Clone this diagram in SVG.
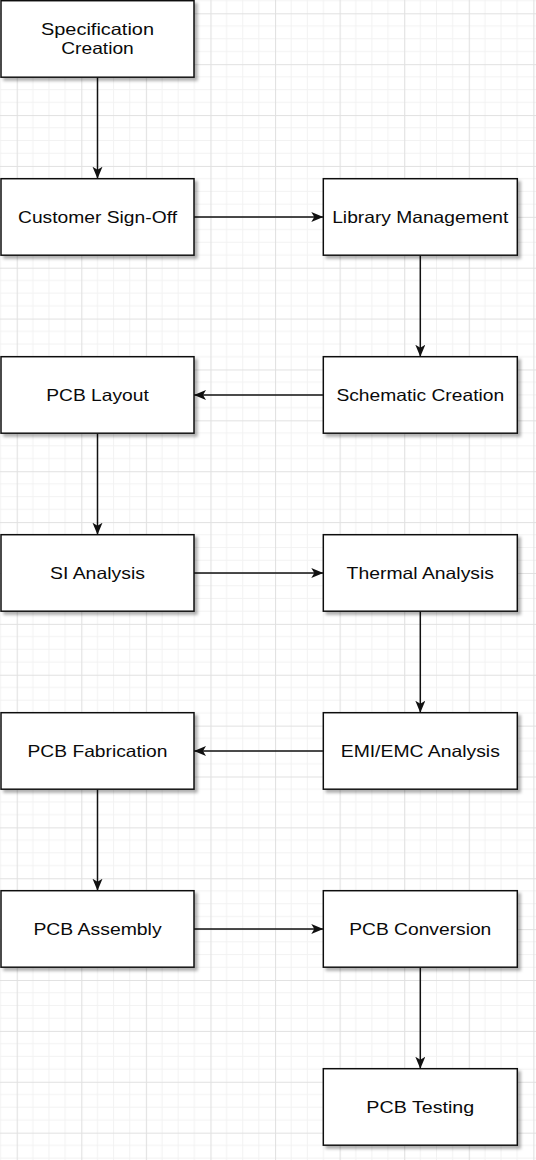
<svg xmlns="http://www.w3.org/2000/svg" width="536" height="1160" viewBox="0 0 536 1160">
<defs>
<pattern id="grid" patternUnits="userSpaceOnUse" x="16.7" y="13.3" width="64.58" height="50.88">
<path d="M16.15 0V50.88M32.29 0V50.88M48.44 0V50.88M0 12.72H64.58M0 25.44H64.58M0 38.16H64.58" stroke="#f2f2f2" stroke-width="1" fill="none"/>
<path d="M0.5 0V50.88M0 0.5H64.58" stroke="#e1e1e1" stroke-width="1.2" fill="none"/>
</pattern>
<filter id="sh" x="-10%" y="-10%" width="130%" height="140%">
<feDropShadow dx="3" dy="3" stdDeviation="1.6" flood-color="#000" flood-opacity="0.3"/>
</filter>
<marker id="ah" markerUnits="userSpaceOnUse" markerWidth="14" markerHeight="12" refX="12" refY="5" orient="auto">
<path d="M0 0L12 5L0 10L3 5Z" fill="#111"/>
</marker>
</defs>
<style>
.box{fill:#fff;stroke:#111;stroke-width:1.5;filter:url(#sh)}
.lbl{font-family:"Liberation Sans",Arial,Helvetica,sans-serif;font-size:16.5px;fill:#0a0a0a;text-anchor:middle}
.edge{fill:none;stroke:#111;stroke-width:1.5;marker-end:url(#ah)}
</style>
<rect width="536" height="1160" fill="#fff"/>
<rect width="536" height="1160" fill="url(#grid)"/>

<g id="connectors">
<path class="edge" d="M97.5 77.2V178.7"/>
<path class="edge" d="M194 217H323.3"/>
<path class="edge" d="M420.3 255.2V356.7"/>
<path class="edge" d="M323.3 395H194"/>
<path class="edge" d="M97.5 433.2V534.7"/>
<path class="edge" d="M194 573H323.3"/>
<path class="edge" d="M420.3 611.2V712.7"/>
<path class="edge" d="M323.3 751H194"/>
<path class="edge" d="M97.5 789.2V890.7"/>
<path class="edge" d="M194 929H323.3"/>
<path class="edge" d="M420.3 967.2V1068.7"/>
</g>

<g id="spec">
<rect class="box" x="1" y="0.7" width="193" height="76.5"/>
<text class="lbl" x="97.5" y="34.5" textLength="113" lengthAdjust="spacingAndGlyphs">Specification</text>
<text class="lbl" x="97.5" y="53.5" textLength="72.6" lengthAdjust="spacingAndGlyphs">Creation</text>
</g>
<g id="signoff">
<rect class="box" x="1" y="178.7" width="193" height="76.5"/>
<text class="lbl" x="97.5" y="222.5" textLength="159" lengthAdjust="spacingAndGlyphs">Customer Sign-Off</text>
</g>
<g id="library">
<rect class="box" x="323.3" y="178.7" width="194" height="76.5"/>
<text class="lbl" x="420.3" y="222.5" textLength="176.2" lengthAdjust="spacingAndGlyphs">Library Management</text>
</g>
<g id="schematic">
<rect class="box" x="323.3" y="356.7" width="194" height="76.5"/>
<text class="lbl" x="420.3" y="400.5" textLength="167.7" lengthAdjust="spacingAndGlyphs">Schematic Creation</text>
</g>
<g id="layout">
<rect class="box" x="1" y="356.7" width="193" height="76.5"/>
<text class="lbl" x="97.5" y="400.5" textLength="102.6" lengthAdjust="spacingAndGlyphs">PCB Layout</text>
</g>
<g id="si">
<rect class="box" x="1" y="534.7" width="193" height="76.5"/>
<text class="lbl" x="97.5" y="578.5" textLength="95.1" lengthAdjust="spacingAndGlyphs">SI Analysis</text>
</g>
<g id="thermal">
<rect class="box" x="323.3" y="534.7" width="194" height="76.5"/>
<text class="lbl" x="420.3" y="578.5" textLength="147.4" lengthAdjust="spacingAndGlyphs">Thermal Analysis</text>
</g>
<g id="emi">
<rect class="box" x="323.3" y="712.7" width="194" height="76.5"/>
<text class="lbl" x="420.3" y="756.5" textLength="159.1" lengthAdjust="spacingAndGlyphs">EMI/EMC Analysis</text>
</g>
<g id="fabrication">
<rect class="box" x="1" y="712.7" width="193" height="76.5"/>
<text class="lbl" x="97.5" y="756.5" textLength="139.9" lengthAdjust="spacingAndGlyphs">PCB Fabrication</text>
</g>
<g id="assembly">
<rect class="box" x="1" y="890.7" width="193" height="76.5"/>
<text class="lbl" x="97.5" y="934.5" textLength="128.2" lengthAdjust="spacingAndGlyphs">PCB Assembly</text>
</g>
<g id="conversion">
<rect class="box" x="323.3" y="890.7" width="194" height="76.5"/>
<text class="lbl" x="420.3" y="934.5" textLength="142.1" lengthAdjust="spacingAndGlyphs">PCB Conversion</text>
</g>
<g id="testing">
<rect class="box" x="323.3" y="1068.7" width="194" height="76.5"/>
<text class="lbl" x="420.3" y="1112.5" textLength="107.9" lengthAdjust="spacingAndGlyphs">PCB Testing</text>
</g>
</svg>
